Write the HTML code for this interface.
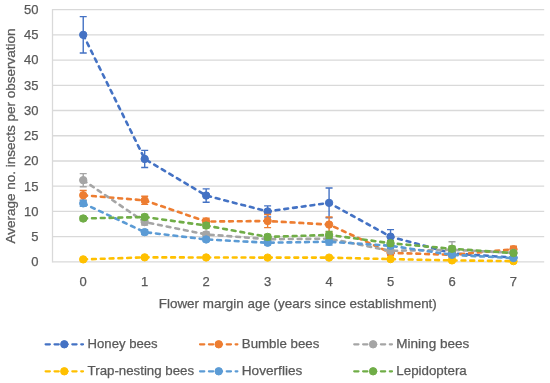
<!DOCTYPE html><html><head><meta charset="utf-8"><style>html,body{margin:0;padding:0;background:#fff;}svg{display:block;}text{stroke:#595959;stroke-width:0.25px;}</style></head><body>
<svg width="550" height="383" viewBox="0 0 550 383" font-family="'Liberation Sans', Arial, sans-serif">
<rect width="550" height="383" fill="#fff"/>
<line x1="52.5" y1="236.67" x2="544.2" y2="236.67" stroke="#D9D9D9" stroke-width="1.3"/>
<line x1="52.5" y1="211.44" x2="544.2" y2="211.44" stroke="#D9D9D9" stroke-width="1.3"/>
<line x1="52.5" y1="186.21" x2="544.2" y2="186.21" stroke="#D9D9D9" stroke-width="1.3"/>
<line x1="52.5" y1="160.98" x2="544.2" y2="160.98" stroke="#D9D9D9" stroke-width="1.3"/>
<line x1="52.5" y1="135.75" x2="544.2" y2="135.75" stroke="#D9D9D9" stroke-width="1.3"/>
<line x1="52.5" y1="110.52" x2="544.2" y2="110.52" stroke="#D9D9D9" stroke-width="1.3"/>
<line x1="52.5" y1="85.29" x2="544.2" y2="85.29" stroke="#D9D9D9" stroke-width="1.3"/>
<line x1="52.5" y1="60.06" x2="544.2" y2="60.06" stroke="#D9D9D9" stroke-width="1.3"/>
<line x1="52.5" y1="34.83" x2="544.2" y2="34.83" stroke="#D9D9D9" stroke-width="1.3"/>
<line x1="52.5" y1="9.6" x2="544.2" y2="9.6" stroke="#D9D9D9" stroke-width="1.3"/>
<line x1="52.5" y1="9" x2="52.5" y2="262.5" stroke="#D9D9D9" stroke-width="1.3"/>
<line x1="52.5" y1="261.9" x2="544.2" y2="261.9" stroke="#D9D9D9" stroke-width="1.3"/>
<g fill="#595959" font-size="13" text-anchor="end">
<text x="38.5" y="266.2">0</text>
<text x="38.5" y="240.97">5</text>
<text x="38.5" y="215.74">10</text>
<text x="38.5" y="190.51">15</text>
<text x="38.5" y="165.28">20</text>
<text x="38.5" y="140.05">25</text>
<text x="38.5" y="114.82">30</text>
<text x="38.5" y="89.59">35</text>
<text x="38.5" y="64.36">40</text>
<text x="38.5" y="39.13">45</text>
<text x="38.5" y="13.9">50</text>
</g>
<g fill="#595959" font-size="13" text-anchor="middle">
<text x="83.23" y="285.5">0</text>
<text x="144.69" y="285.5">1</text>
<text x="206.16" y="285.5">2</text>
<text x="267.62" y="285.5">3</text>
<text x="329.08" y="285.5">4</text>
<text x="390.54" y="285.5">5</text>
<text x="452.01" y="285.5">6</text>
<text x="513.47" y="285.5">7</text>
</g>
<text x="297.8" y="307.9" fill="#595959" font-size="13" text-anchor="middle" textLength="278" lengthAdjust="spacingAndGlyphs">Flower margin age (years since establishment)</text>
<text transform="translate(15.1 135.95) rotate(-90)" fill="#595959" font-size="13" text-anchor="middle" textLength="215" lengthAdjust="spacingAndGlyphs">Average no. insects per observation</text>
<polyline points="83.23,34.83 144.69,158.96 206.16,195.55 267.62,211.44 329.08,202.86 390.54,236.67 452.01,253.32 513.47,257.61" fill="none" stroke="#4472C4" stroke-width="2.6" stroke-dasharray="3.8 5.0" stroke-linecap="round" stroke-linejoin="round"/>
<path d="M83.23 16.66V53M79.73 16.66H86.73M79.73 53H86.73M144.69 150.38V167.54M141.19 150.38H148.19M141.19 167.54H148.19M206.16 188.88V202.21M202.66 188.88H209.66M202.66 202.21H209.66M267.62 205.89V216.99M264.12 205.89H271.12M264.12 216.99H271.12M329.08 187.98V217.75M325.58 187.98H332.58M325.58 217.75H332.58M390.54 229.61V243.73M387.04 229.61H394.04M387.04 243.73H394.04M452.01 250.8V255.84M448.51 250.8H455.51M448.51 255.84H455.51M513.47 256.1V259.12M509.97 256.1H516.97M509.97 259.12H516.97" stroke="#4472C4" stroke-width="1.4" fill="none"/>
<circle cx="83.23" cy="34.83" r="3.7" fill="#4472C4" stroke="#4472C4" stroke-width="1.0"/>
<circle cx="144.69" cy="158.96" r="3.7" fill="#4472C4" stroke="#4472C4" stroke-width="1.0"/>
<circle cx="206.16" cy="195.55" r="3.7" fill="#4472C4" stroke="#4472C4" stroke-width="1.0"/>
<circle cx="267.62" cy="211.44" r="3.7" fill="#4472C4" stroke="#4472C4" stroke-width="1.0"/>
<circle cx="329.08" cy="202.86" r="3.7" fill="#4472C4" stroke="#4472C4" stroke-width="1.0"/>
<circle cx="390.54" cy="236.67" r="3.7" fill="#4472C4" stroke="#4472C4" stroke-width="1.0"/>
<circle cx="452.01" cy="253.32" r="3.7" fill="#4472C4" stroke="#4472C4" stroke-width="1.0"/>
<circle cx="513.47" cy="257.61" r="3.7" fill="#4472C4" stroke="#4472C4" stroke-width="1.0"/>
<polyline points="83.23,195.29 144.69,200.34 206.16,221.53 267.62,221.03 329.08,224.56 390.54,252.82 452.01,254.84 513.47,249.28" fill="none" stroke="#ED7D31" stroke-width="2.6" stroke-dasharray="3.8 5.0" stroke-linecap="round" stroke-linejoin="round"/>
<path d="M83.23 190.5V200.09M79.73 190.5H86.73M79.73 200.09H86.73M144.69 196.3V204.38M141.19 196.3H148.19M141.19 204.38H148.19M206.16 218.25V224.81M202.66 218.25H209.66M202.66 224.81H209.66M267.62 214.47V227.59M264.12 214.47H271.12M264.12 227.59H271.12M329.08 216.99V232.13M325.58 216.99H332.58M325.58 232.13H332.58M390.54 250.29V255.34M387.04 250.29H394.04M387.04 255.34H394.04M452.01 252.82V256.85M448.51 252.82H455.51M448.51 256.85H455.51M513.47 246.26V252.31M509.97 246.26H516.97M509.97 252.31H516.97" stroke="#ED7D31" stroke-width="1.4" fill="none"/>
<circle cx="83.23" cy="195.29" r="3.7" fill="#ED7D31" stroke="#ED7D31" stroke-width="1.0"/>
<circle cx="144.69" cy="200.34" r="3.7" fill="#ED7D31" stroke="#ED7D31" stroke-width="1.0"/>
<circle cx="206.16" cy="221.53" r="3.7" fill="#ED7D31" stroke="#ED7D31" stroke-width="1.0"/>
<circle cx="267.62" cy="221.03" r="3.7" fill="#ED7D31" stroke="#ED7D31" stroke-width="1.0"/>
<circle cx="329.08" cy="224.56" r="3.7" fill="#ED7D31" stroke="#ED7D31" stroke-width="1.0"/>
<circle cx="390.54" cy="252.82" r="3.7" fill="#ED7D31" stroke="#ED7D31" stroke-width="1.0"/>
<circle cx="452.01" cy="254.84" r="3.7" fill="#ED7D31" stroke="#ED7D31" stroke-width="1.0"/>
<circle cx="513.47" cy="249.28" r="3.7" fill="#ED7D31" stroke="#ED7D31" stroke-width="1.0"/>
<polyline points="83.23,180.15 144.69,222.04 206.16,234.4 267.62,239.19 329.08,238.69 390.54,250.8 452.01,249.79 513.47,252.82" fill="none" stroke="#A5A5A5" stroke-width="2.6" stroke-dasharray="3.8 5.0" stroke-linecap="round" stroke-linejoin="round"/>
<path d="M83.23 173.59V186.71M79.73 173.59H86.73M79.73 186.71H86.73M144.69 219.01V225.06M141.19 219.01H148.19M141.19 225.06H148.19M206.16 231.88V236.92M202.66 231.88H209.66M202.66 236.92H209.66M267.62 237.17V241.21M264.12 237.17H271.12M264.12 241.21H271.12M329.08 236.67V240.71M325.58 236.67H332.58M325.58 240.71H332.58M390.54 248.28V253.32M387.04 248.28H394.04M387.04 253.32H394.04M452.01 241.72V257.86M448.51 241.72H455.51M448.51 257.86H455.51M513.47 250.8V254.84M509.97 250.8H516.97M509.97 254.84H516.97" stroke="#A5A5A5" stroke-width="1.4" fill="none"/>
<circle cx="83.23" cy="180.15" r="3.7" fill="#A5A5A5" stroke="#A5A5A5" stroke-width="1.0"/>
<circle cx="144.69" cy="222.04" r="3.7" fill="#A5A5A5" stroke="#A5A5A5" stroke-width="1.0"/>
<circle cx="206.16" cy="234.4" r="3.7" fill="#A5A5A5" stroke="#A5A5A5" stroke-width="1.0"/>
<circle cx="267.62" cy="239.19" r="3.7" fill="#A5A5A5" stroke="#A5A5A5" stroke-width="1.0"/>
<circle cx="329.08" cy="238.69" r="3.7" fill="#A5A5A5" stroke="#A5A5A5" stroke-width="1.0"/>
<circle cx="390.54" cy="250.8" r="3.7" fill="#A5A5A5" stroke="#A5A5A5" stroke-width="1.0"/>
<circle cx="452.01" cy="249.79" r="3.7" fill="#A5A5A5" stroke="#A5A5A5" stroke-width="1.0"/>
<circle cx="513.47" cy="252.82" r="3.7" fill="#A5A5A5" stroke="#A5A5A5" stroke-width="1.0"/>
<polyline points="83.23,259.38 144.69,257.36 206.16,257.46 267.62,257.61 329.08,257.61 390.54,259.12 452.01,260.39 513.47,261.14" fill="none" stroke="#FFC000" stroke-width="2.6" stroke-dasharray="3.8 5.0" stroke-linecap="round" stroke-linejoin="round"/>
<path d="M83.23 258.87V259.88M79.73 258.87H86.73M79.73 259.88H86.73M144.69 256.35V258.37M141.19 256.35H148.19M141.19 258.37H148.19M206.16 256.45V258.47M202.66 256.45H209.66M202.66 258.47H209.66M267.62 256.6V258.62M264.12 256.6H271.12M264.12 258.62H271.12M329.08 256.6V258.62M325.58 256.6H332.58M325.58 258.62H332.58M390.54 258.12V260.13M387.04 258.12H394.04M387.04 260.13H394.04M452.01 259.88V260.89M448.51 259.88H455.51M448.51 260.89H455.51M513.47 260.64V261.65M509.97 260.64H516.97M509.97 261.65H516.97" stroke="#FFC000" stroke-width="1.4" fill="none"/>
<circle cx="83.23" cy="259.38" r="3.7" fill="#FFC000" stroke="#FFC000" stroke-width="1.0"/>
<circle cx="144.69" cy="257.36" r="3.7" fill="#FFC000" stroke="#FFC000" stroke-width="1.0"/>
<circle cx="206.16" cy="257.46" r="3.7" fill="#FFC000" stroke="#FFC000" stroke-width="1.0"/>
<circle cx="267.62" cy="257.61" r="3.7" fill="#FFC000" stroke="#FFC000" stroke-width="1.0"/>
<circle cx="329.08" cy="257.61" r="3.7" fill="#FFC000" stroke="#FFC000" stroke-width="1.0"/>
<circle cx="390.54" cy="259.12" r="3.7" fill="#FFC000" stroke="#FFC000" stroke-width="1.0"/>
<circle cx="452.01" cy="260.39" r="3.7" fill="#FFC000" stroke="#FFC000" stroke-width="1.0"/>
<circle cx="513.47" cy="261.14" r="3.7" fill="#FFC000" stroke="#FFC000" stroke-width="1.0"/>
<polyline points="83.23,203.37 144.69,232.13 206.16,239.45 267.62,242.73 329.08,241.72 390.54,245.75 452.01,254.84 513.47,258.12" fill="none" stroke="#5B9BD5" stroke-width="2.6" stroke-dasharray="3.8 5.0" stroke-linecap="round" stroke-linejoin="round"/>
<path d="M83.23 200.34V206.39M79.73 200.34H86.73M79.73 206.39H86.73M144.69 229.61V234.65M141.19 229.61H148.19M141.19 234.65H148.19M206.16 237.43V241.46M202.66 237.43H209.66M202.66 241.46H209.66M267.62 240.71V244.74M264.12 240.71H271.12M264.12 244.74H271.12M329.08 238.44V245M325.58 238.44H332.58M325.58 245H332.58M390.54 243.23V248.28M387.04 243.23H394.04M387.04 248.28H394.04M452.01 253.32V256.35M448.51 253.32H455.51M448.51 256.35H455.51M513.47 256.6V259.63M509.97 256.6H516.97M509.97 259.63H516.97" stroke="#5B9BD5" stroke-width="1.4" fill="none"/>
<circle cx="83.23" cy="203.37" r="3.7" fill="#5B9BD5" stroke="#5B9BD5" stroke-width="1.0"/>
<circle cx="144.69" cy="232.13" r="3.7" fill="#5B9BD5" stroke="#5B9BD5" stroke-width="1.0"/>
<circle cx="206.16" cy="239.45" r="3.7" fill="#5B9BD5" stroke="#5B9BD5" stroke-width="1.0"/>
<circle cx="267.62" cy="242.73" r="3.7" fill="#5B9BD5" stroke="#5B9BD5" stroke-width="1.0"/>
<circle cx="329.08" cy="241.72" r="3.7" fill="#5B9BD5" stroke="#5B9BD5" stroke-width="1.0"/>
<circle cx="390.54" cy="245.75" r="3.7" fill="#5B9BD5" stroke="#5B9BD5" stroke-width="1.0"/>
<circle cx="452.01" cy="254.84" r="3.7" fill="#5B9BD5" stroke="#5B9BD5" stroke-width="1.0"/>
<circle cx="513.47" cy="258.12" r="3.7" fill="#5B9BD5" stroke="#5B9BD5" stroke-width="1.0"/>
<polyline points="83.23,218.5 144.69,216.99 206.16,225.57 267.62,236.92 329.08,234.9 390.54,243.23 452.01,248.78 513.47,253.07" fill="none" stroke="#70AD47" stroke-width="2.6" stroke-dasharray="3.8 5.0" stroke-linecap="round" stroke-linejoin="round"/>
<path d="M83.23 216.49V220.52M79.73 216.49H86.73M79.73 220.52H86.73M144.69 214.47V219.51M141.19 214.47H148.19M141.19 219.51H148.19M206.16 223.05V228.09M202.66 223.05H209.66M202.66 228.09H209.66M267.62 234.4V239.45M264.12 234.4H271.12M264.12 239.45H271.12M329.08 231.37V238.44M325.58 231.37H332.58M325.58 238.44H332.58M390.54 240.71V245.75M387.04 240.71H394.04M387.04 245.75H394.04M452.01 246.26V251.3M448.51 246.26H455.51M448.51 251.3H455.51M513.47 251.56V254.58M509.97 251.56H516.97M509.97 254.58H516.97" stroke="#70AD47" stroke-width="1.4" fill="none"/>
<circle cx="83.23" cy="218.5" r="3.7" fill="#70AD47" stroke="#70AD47" stroke-width="1.0"/>
<circle cx="144.69" cy="216.99" r="3.7" fill="#70AD47" stroke="#70AD47" stroke-width="1.0"/>
<circle cx="206.16" cy="225.57" r="3.7" fill="#70AD47" stroke="#70AD47" stroke-width="1.0"/>
<circle cx="267.62" cy="236.92" r="3.7" fill="#70AD47" stroke="#70AD47" stroke-width="1.0"/>
<circle cx="329.08" cy="234.9" r="3.7" fill="#70AD47" stroke="#70AD47" stroke-width="1.0"/>
<circle cx="390.54" cy="243.23" r="3.7" fill="#70AD47" stroke="#70AD47" stroke-width="1.0"/>
<circle cx="452.01" cy="248.78" r="3.7" fill="#70AD47" stroke="#70AD47" stroke-width="1.0"/>
<circle cx="513.47" cy="253.07" r="3.7" fill="#70AD47" stroke="#70AD47" stroke-width="1.0"/>
<line x1="45.6" y1="344.3" x2="83" y2="344.3" stroke="#4472C4" stroke-width="2.2" stroke-dasharray="4.3 4.6" stroke-linecap="round"/>
<circle cx="64.3" cy="344.3" r="3.7" fill="#4472C4" stroke="#4472C4" stroke-width="1.0"/>
<text x="87.6" y="348.3" fill="#595959" font-size="13" textLength="70" lengthAdjust="spacingAndGlyphs">Honey bees</text>
<line x1="200" y1="344.3" x2="237.4" y2="344.3" stroke="#ED7D31" stroke-width="2.2" stroke-dasharray="4.3 4.6" stroke-linecap="round"/>
<circle cx="218.7" cy="344.3" r="3.7" fill="#ED7D31" stroke="#ED7D31" stroke-width="1.0"/>
<text x="241.8" y="348.3" fill="#595959" font-size="13" textLength="77.5" lengthAdjust="spacingAndGlyphs">Bumble bees</text>
<line x1="354.2" y1="344.3" x2="392" y2="344.3" stroke="#A5A5A5" stroke-width="2.2" stroke-dasharray="4.3 4.6" stroke-linecap="round"/>
<circle cx="373.1" cy="344.3" r="3.7" fill="#A5A5A5" stroke="#A5A5A5" stroke-width="1.0"/>
<text x="396.3" y="348.3" fill="#595959" font-size="13" textLength="73" lengthAdjust="spacingAndGlyphs">Mining bees</text>
<line x1="45.6" y1="371.3" x2="83" y2="371.3" stroke="#FFC000" stroke-width="2.2" stroke-dasharray="4.3 4.6" stroke-linecap="round"/>
<circle cx="64.3" cy="371.3" r="3.7" fill="#FFC000" stroke="#FFC000" stroke-width="1.0"/>
<text x="87.6" y="375.3" fill="#595959" font-size="13" textLength="106.5" lengthAdjust="spacingAndGlyphs">Trap-nesting bees</text>
<line x1="200" y1="371.3" x2="237.4" y2="371.3" stroke="#5B9BD5" stroke-width="2.2" stroke-dasharray="4.3 4.6" stroke-linecap="round"/>
<circle cx="218.7" cy="371.3" r="3.7" fill="#5B9BD5" stroke="#5B9BD5" stroke-width="1.0"/>
<text x="241.8" y="375.3" fill="#595959" font-size="13" textLength="60.5" lengthAdjust="spacingAndGlyphs">Hoverflies</text>
<line x1="354.2" y1="371.3" x2="392" y2="371.3" stroke="#70AD47" stroke-width="2.2" stroke-dasharray="4.3 4.6" stroke-linecap="round"/>
<circle cx="373.1" cy="371.3" r="3.7" fill="#70AD47" stroke="#70AD47" stroke-width="1.0"/>
<text x="396.3" y="375.3" fill="#595959" font-size="13" textLength="70.5" lengthAdjust="spacingAndGlyphs">Lepidoptera</text>
</svg></body></html>
